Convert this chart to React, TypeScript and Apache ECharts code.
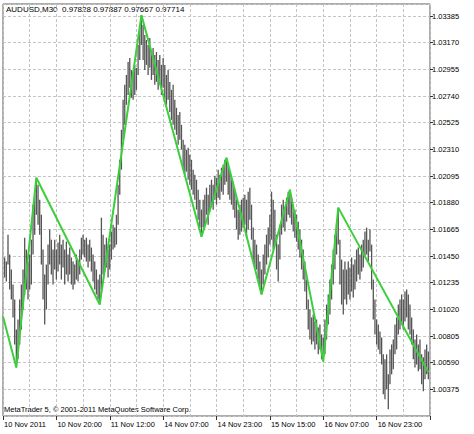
import React, { useEffect, useRef } from "react";
import * as echarts from "echarts";

// Time axis tick labels (one every 32 bars of M30)
const xTickLabels = [
  "10 Nov 2011", "10 Nov 20:00", "11 Nov 12:00", "14 Nov 07:00",
  "14 Nov 23:00", "15 Nov 15:00", "16 Nov 07:00", "16 Nov 23:00",
];

// Bar highs (bars 1..255)
const highs = [
  1.01438, 1.01405, 1.01622, 1.01462, 1.01341, 1.0122, 1.01099, 1.00858, 1.00938, 1.01099,
  1.0122, 1.01341, 1.01598, 1.01502, 1.01405, 1.01462, 1.01582, 1.01864, 1.01944, 1.02081,
  1.02025, 1.01904, 1.01783, 1.01502, 1.01301, 1.01381, 1.01542, 1.01663, 1.01582, 1.01502,
  1.01582, 1.01502, 1.01558, 1.01622, 1.01542, 1.01582, 1.01502, 1.01566, 1.01462, 1.01518,
  1.01438, 1.01405, 1.01381, 1.01462, 1.01405, 1.01502, 1.01598, 1.01622, 1.01582, 1.01598,
  1.01542, 1.01582, 1.01518, 1.01462, 1.01405, 1.01341, 1.0126, 1.01301, 1.01759, 1.01622,
  1.01542, 1.01598, 1.01502, 1.01542, 1.01647, 1.01703, 1.01679, 1.01783, 1.02025, 1.02226,
  1.02468, 1.02709, 1.0283, 1.0291, 1.03015, 1.03047, 1.0295, 1.02934, 1.02991, 1.02967,
  1.03152, 1.03313, 1.03393, 1.03313, 1.03232, 1.03192, 1.03152, 1.03208, 1.03111, 1.03128,
  1.03071, 1.03095, 1.03031, 1.03071, 1.02991, 1.03047, 1.02991, 1.0291, 1.0295, 1.02854,
  1.0279, 1.0283, 1.02709, 1.02645, 1.02588, 1.02612, 1.02508, 1.02387, 1.02347, 1.02307,
  1.02323, 1.02266, 1.02226, 1.02146, 1.02105, 1.02065, 1.01985, 1.01904, 1.01824, 1.01904,
  1.01944, 1.02001, 1.01944, 1.02025, 1.02065, 1.02025, 1.02097, 1.02081, 1.02146, 1.02105,
  1.02162, 1.02186, 1.02226, 1.02242, 1.02186, 1.0213, 1.02081, 1.02049, 1.01985, 1.01904,
  1.01824, 1.01864, 1.01904, 1.0192, 1.01944, 1.01904, 1.01969, 1.02001, 1.01864, 1.01679,
  1.01582, 1.01542, 1.01462, 1.01405, 1.01341, 1.01462, 1.01542, 1.01622, 1.01679, 1.01783,
  1.01969, 1.01904, 1.01824, 1.01622, 1.01542, 1.01703, 1.01864, 1.01904, 1.0184, 1.0192,
  1.01969, 1.01985, 1.0192, 1.01864, 1.01824, 1.01783, 1.01727, 1.01663, 1.01582, 1.01502,
  1.01405, 1.0126, 1.01099, 1.01019, 1.00955, 1.00979, 1.00922, 1.00938, 1.00874, 1.00898,
  1.00818, 1.00793, 1.00938, 1.01059, 1.0114, 1.0126, 1.01381, 1.01502, 1.01622, 1.01727,
  1.0184, 1.01582, 1.01421, 1.01341, 1.01405, 1.01341, 1.01405, 1.01357, 1.01438, 1.01381,
  1.01421, 1.01502, 1.01518, 1.01462, 1.01542, 1.01582, 1.01647, 1.01679, 1.01582, 1.01663,
  1.01542, 1.0126, 1.01099, 1.00938, 1.00898, 1.00842, 1.00793, 1.00657, 1.00617, 1.00657,
  1.00496, 1.00697, 1.00737, 1.00777, 1.00898, 1.00955, 1.01059, 1.01099, 1.0114, 1.01099,
  1.01164, 1.0118, 1.0114, 1.01059, 1.00955, 1.00858, 1.00777, 1.00818, 1.00737, 1.00777,
  1.00657, 1.00633, 1.00697, 1.00737, 1.00681,
];

// Bar lows (bars 1..255)
const lows = [
  1.01276, 1.01244, 1.01381, 1.0118, 1.01099, 1.00955, 1.00737, 1.00552, 1.00617, 1.00737,
  1.00858, 1.01019, 1.0114, 1.0118, 1.01099, 1.0118, 1.0122, 1.01462, 1.01622, 1.01783,
  1.01703, 1.01622, 1.01381, 1.01099, 1.00898, 1.01019, 1.0122, 1.01381, 1.01301, 1.0122,
  1.01341, 1.0126, 1.01325, 1.01381, 1.0126, 1.01357, 1.0122, 1.01301, 1.01244, 1.01301,
  1.0122, 1.0118, 1.0122, 1.0126, 1.01244, 1.01301, 1.01421, 1.01462, 1.01438, 1.01405,
  1.01357, 1.01405, 1.01325, 1.01244, 1.0118, 1.0114, 1.01099, 1.01059, 1.0118, 1.01301,
  1.01325, 1.01357, 1.01276, 1.01341, 1.01421, 1.01502, 1.01518, 1.01542, 1.01703, 1.01944,
  1.02146, 1.02387, 1.02508, 1.02669, 1.02749, 1.02806, 1.02725, 1.02709, 1.02749, 1.0279,
  1.0291, 1.03031, 1.03152, 1.03031, 1.0295, 1.02991, 1.0291, 1.02967, 1.0287, 1.0291,
  1.0283, 1.02854, 1.0279, 1.0283, 1.02749, 1.02806, 1.02709, 1.02669, 1.02709, 1.02612,
  1.02548, 1.02508, 1.02468, 1.02427, 1.02347, 1.02387, 1.02307, 1.02146, 1.02105, 1.0213,
  1.02065, 1.02025, 1.01985, 1.01944, 1.01904, 1.01824, 1.01743, 1.01679, 1.01606, 1.01679,
  1.01703, 1.01783, 1.01703, 1.01808, 1.01864, 1.01824, 1.01904, 1.01864, 1.0192, 1.01904,
  1.01969, 1.01944, 1.02025, 1.02049, 1.01944, 1.01904, 1.01864, 1.01824, 1.01759, 1.01663,
  1.01582, 1.01622, 1.01647, 1.01679, 1.01703, 1.01598, 1.01663, 1.01743, 1.01582, 1.01405,
  1.01357, 1.01341, 1.0126, 1.01196, 1.0114, 1.0122, 1.01301, 1.01381, 1.01438, 1.01542,
  1.01582, 1.01502, 1.01542, 1.01341, 1.01244, 1.01421, 1.01622, 1.01679, 1.01647, 1.01727,
  1.01783, 1.01759, 1.01703, 1.01647, 1.01598, 1.01566, 1.01502, 1.01438, 1.01341, 1.0126,
  1.01164, 1.01019, 1.00858, 1.00777, 1.00737, 1.00761, 1.00697, 1.00737, 1.00657, 1.00697,
  1.00617, 1.006, 1.00657, 1.00777, 1.00898, 1.00979, 1.01099, 1.0122, 1.01341, 1.01462,
  1.01542, 1.0122, 1.01059, 1.00979, 1.01099, 1.01059, 1.0114, 1.01099, 1.01164, 1.01115,
  1.0118, 1.01244, 1.01301, 1.0126, 1.01325, 1.01357, 1.01438, 1.01462, 1.01405, 1.01486,
  1.0118, 1.00938, 1.00818, 1.00737, 1.00697, 1.00657, 1.00576, 1.00335, 1.00295, 1.00375,
  1.00214, 1.00415, 1.00496, 1.00536, 1.00657, 1.00697, 1.00818, 1.00858, 1.00898, 1.00858,
  1.00922, 1.00955, 1.00858, 1.00818, 1.00737, 1.00617, 1.00552, 1.00576, 1.0052, 1.00536,
  1.00415, 1.00359, 1.00456, 1.00496, 1.00456,
];

// ZigZag indicator vertices (bar index, price)
const zigzagBars = [0, 8, 20, 58, 83, 119, 134, 155, 172, 192, 201, 255];
const zigzagPrices = [
  1.00963, 1.00552, 1.02081, 1.01059, 1.03393, 1.01606,
  1.02242, 1.0114, 1.01985, 1.006, 1.0184, 1.00512,
];

const titleText = "AUDUSD,M30  0.97828 0.97887 0.97667 0.97714";
const copyrightText = "MetaTrader 5, \u00A9 2001-2011 MetaQuotes Software Corp.";

const FONT = "'Liberation Sans', Arial, sans-serif";

export default function App() {
  const ref = useRef<HTMLDivElement>(null);

  useEffect(() => {
    if (!ref.current) return;
    const chart = echarts.init(ref.current, null, { renderer: "svg" });

    const nCats = highs.length + 2;
    const categories = Array.from({ length: nCats }, (_, i) => String(i));
    const barData = highs.map((h, k) => [k + 1, h, lows[k]]);
    const zzData = zigzagBars.map((b, k) => [b, zigzagPrices[k]]);

    chart.setOption({
      animation: false,
      backgroundColor: "#ffffff",
      grid: {
        left: 3,
        right: 44,
        top: 4,
        bottom: 18,
        show: true,
        borderColor: "#5a5a5a",
        borderWidth: 1,
        backgroundColor: "transparent",
      },
      xAxis: {
        type: "category",
        data: categories,
        boundaryGap: false,
        axisLine: { show: false },
        axisTick: {
          show: true,
          length: 4,
          interval: (i: number) => i % 32 === 0,
          lineStyle: { color: "#333" },
        },
        axisLabel: {
          show: true,
          interval: (i: number) => i % 32 === 0,
          formatter: (_v: string, i: number) => xTickLabels[i / 32] ?? "",
          align: "left",
          margin: 4,
          color: "#000",
          fontSize: 7.5,
          fontFamily: FONT,
          padding: [0, 0, 0, 1],
        },
        splitLine: {
          show: true,
          interval: (i: number) => i % 16 === 0,
          lineStyle: { color: "#c4c4c4", type: [3, 2], width: 1 },
        },
      },
      yAxis: {
        type: "value",
        position: "right",
        min: 1.0016,
        max: 1.03482,
        interval: 0.00215,
        scale: true,
        axisLine: { show: false },
        axisTick: { show: true, length: 3, inside: false, lineStyle: { color: "#333" } },
        axisLabel: {
          show: true,
          showMinLabel: false,
          showMaxLabel: false,
          formatter: (v: number) => v.toFixed(5),
          margin: 2,
          color: "#000",
          fontSize: 7.5,
          fontFamily: FONT,
        },
        splitLine: {
          show: true,
          lineStyle: { color: "#c4c4c4", type: [3, 2], width: 1 },
        },
      },
      series: [
        {
          type: "custom",
          data: barData,
          encode: { x: 0, y: [1, 2] },
          clip: true,
          z: 2,
          renderItem: (_params: any, api: any) => {
            const idx = api.value(0);
            const top = api.coord([idx, api.value(1)]);
            const bot = api.coord([idx, api.value(2)]);
            return {
              type: "line",
              shape: { x1: top[0], y1: top[1], x2: bot[0], y2: bot[1] },
              style: { stroke: "#555555", lineWidth: 1.3 },
            };
          },
        },
        {
          type: "line",
          data: zzData,
          showSymbol: false,
          symbol: "none",
          z: 3,
          lineStyle: { color: "#3ccf3c", width: 2 },
        },
      ],
      graphic: [
        {
          type: "text",
          left: 6,
          top: 5,
          style: { text: titleText, fill: "#000", fontSize: 8, fontFamily: FONT },
        },
        {
          type: "text",
          left: 4,
          top: 405,
          style: { text: copyrightText, fill: "#000", fontSize: 7.5, fontFamily: FONT },
        },
      ],
    });

    return () => chart.dispose();
  }, []);

  return (
    <div
      ref={ref}
      style={{ position: "absolute", left: 0, top: 0, width: 474, height: 434 }}
    />
  );
}
